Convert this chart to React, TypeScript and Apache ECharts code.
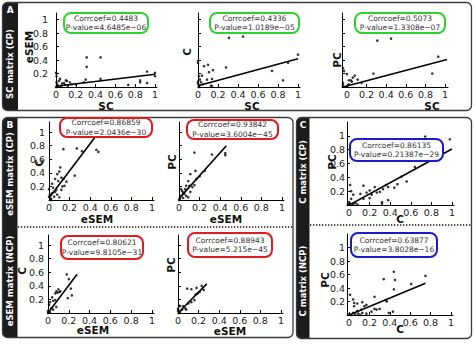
import React, { useEffect, useRef } from "react";
import * as echarts from "echarts";

// ---------- tick values ----------
const TICK_VALUES = [0, 0.2, 0.4, 0.6, 0.8, 1];
const Y_LABEL_VALUES = [0.2, 0.4, 0.6, 0.8, 1];

// ---------- Panel A: SC matrix (CP) ----------
const A1_SC_ESEM = [[0.31,0.44],[0.31,0.30],[0.45,0.44],[0.45,0.12],[0.30,0.11],[0.28,0.07],[0.92,0.23],[1.0,0.21],[1.0,0.16],[0.85,0.10],[0.85,0.07],[0.92,0.06],[0.73,0.03],[0.005,0.07],[0.03,0.09],[0.06,0.05],[0.09,0.03],[0.11,0.09],[0.14,0.07],[0.16,0.04],[0.005,0.16],[0.0,0.21],[0.02,0.02],[0.0,0.0],[0.04,0.12],[0.08,0.06],[0.12,0.02],[0.2,0.04],[0.01,0.04],[0.05,0.01],[0.1,0.1]];
const A1_FIT = [[0, 0.01], [1.0, 0.19]];
const A2_SC_C = [[0.31,0.73],[0.45,0.75],[1.0,0.48],[0.9,0.36],[0.74,0.24],[0.85,0.10],[0.0,0.39],[0.0,0.36],[0.06,0.31],[0.1,0.33],[0.11,0.22],[0.15,0.25],[0.28,0.29],[0.04,0.17],[0.01,0.16],[0.02,0.11],[0.09,0.11],[0.14,0.12],[0.0,0.05],[0.01,0.02],[0.01,0.0],[0.14,0.01],[0.0,0.08],[0.03,0.07],[0.05,0.04],[0.13,0.02]];
const A2_FIT = [[0, 0.02], [1.0, 0.42]];
const A3_SC_PC = [[0.31,0.69],[0.45,0.72],[0.93,0.45],[0.87,0.2],[0.27,0.2],[-0.04,0.28],[-0.03,0.24],[0.0,0.19],[0.08,0.17],[0.06,0.14],[0.02,0.1],[0.04,0.1],[0.11,0.11],[0.15,0.06],[-0.04,0.06],[-0.04,0.03],[0.0,0.01],[0.02,0.04],[0.05,0.08]];
const A3_FIT = [[-0.04, 0.0], [1.02, 0.41]];

// ---------- Panel B: eSEM matrix ----------
const B1_ESEM_C_CP = [[0.14,0.75],[0.27,0.76],[0.32,0.72],[0.46,0.74],[0.48,0.71],[0.25,0.36],[0.11,0.48],[0.10,0.42],[0.08,0.38],[0.12,0.33],[0.06,0.31],[0.09,0.28],[0.14,0.31],[0.03,0.24],[0.04,0.18],[0.07,0.15],[0.0,0.16],[0.03,0.10],[0.08,0.08],[0.05,0.05],[0.10,0.04],[0.0,0.05],[0.02,0.02],[0.12,0.15],[0.15,0.21],[0.17,0.27],[0.13,0.2],[0.06,0.12],[0.01,0.08],[0.02,0.0]];
const B1_FIT = [[0, 0.03], [0.48, 0.99]];
const B2_ESEM_PC_CP = [[0.15,0.70],[0.32,0.67],[0.45,0.69],[0.45,0.66],[0.16,0.43],[0.11,0.38],[0.25,0.43],[0.09,0.28],[0.07,0.21],[0.10,0.21],[0.15,0.22],[0.13,0.19],[0.02,0.16],[0.04,0.11],[0.05,0.09],[0.07,0.06],[0.02,0.06],[0.01,0.02],[0.04,0.03],[0.09,0.04],[0.17,0.31],[0.2,0.35],[0.03,0.13],[0.06,0.16],[0.11,0.12],[0.0,0.0]];
const B2_FIT = [[0, 0.02], [0.46, 0.8]];
const B3_ESEM_C_NCP = [[0.18,0.57],[0.20,0.50],[0.22,0.36],[0.23,0.26],[0.10,0.35],[0.09,0.30],[0.08,0.32],[0.12,0.32],[0.07,0.29],[0.11,0.31],[0.04,0.23],[0.05,0.18],[0.02,0.16],[0.07,0.19],[0.01,0.12],[0.03,0.07],[0.05,0.05],[0.0,0.03],[0.02,0.01],[0.08,0.09],[0.19,0.22],[0.0,0.0]];
const B3_FIT = [[0, 0.0], [0.28, 0.57]];
const B4_ESEM_PC_NCP = [[0.09,0.36],[0.13,0.35],[0.18,0.37],[0.23,0.40],[0.21,0.31],[0.19,0.29],[0.17,0.27],[0.25,0.34],[0.01,0.11],[0.02,0.10],[0.05,0.10],[0.07,0.07],[0.04,0.05],[0.08,0.05],[0.0,0.03],[0.02,0.02],[0.1,0.14],[0.13,0.16],[0.16,0.19],[0.0,0.06],[0.01,0.0]];
const B4_FIT = [[0, 0.0], [0.28, 0.43]];

// ---------- Panel C: C matrix ----------
const C1_C_PC_CP = [[0.74,0.99],[0.98,0.95],[0.64,0.55],[0.51,0.41],[0.56,0.34],[0.44,0.25],[0.38,0.26],[0.33,0.23],[0.30,0.19],[0.25,0.26],[0.20,0.21],[0.14,0.28],[0.22,0.15],[0.27,0.18],[0.17,0.18],[0.11,0.16],[0.01,0.29],[0.02,0.2],[0.04,0.15],[0.02,0.09],[0.14,0.09],[0.20,0.1],[0.32,0.04],[0.38,0.07],[0.0,0.04],[0.01,0.02],[0.04,0.01],[0.06,0.03],[0.08,0.01],[-0.01,0.01],[0.36,0.29],[0.47,0.30],[0.32,0.02]];
const C1_FIT = [[-0.01, -0.01], [1.0, 0.81]];
const C2_C_PC_NCP = [[0.44,0.64],[0.34,0.53],[0.45,0.52],[0.75,0.58],[0.61,0.46],[0.44,0.38],[0.25,0.27],[0.36,0.22],[0.37,0.2],[0.01,0.30],[0.04,0.23],[0.05,0.18],[0.05,0.13],[0.08,0.17],[0.13,0.19],[0.15,0.13],[0.12,0.08],[0.08,0.06],[0.39,0.03],[0.43,0.05],[0.27,0.08],[0.3,0.09],[0.22,0.05],[0.17,0.02],[0.0,0.01],[0.02,0.0],[0.04,0.03],[0.06,0.01],[0.09,0.02],[0.11,0.0],[0.13,0.03],[0.17,0.15],[0.25,0.09]];
const C2_FIT = [[0, 0.0], [0.75, 0.47]];

// ---------- annotations ----------
const CORR_TEXTS = ["Corrcoef=0.4483", "Corrcoef=0.4336", "Corrcoef=0.5073", "Corrcoef=0.86859", "Corrcoef=0.93842", "Corrcoef=0.80621", "Corrcoef=0.88943", "Corrcoef=0.86135", "Corrcoef=0.63877"];
const PVAL_TEXTS = ["P-value=4.6485e\u221206", "P-value=1.0189e\u221205", "P-value=1.3308e\u221207", "P-value=2.0436e\u221230", "P-value=3.6004e\u221245", "P-value=9.8105e\u221231", "P-value=5.215e\u221245", "P-value=0.21387e\u221229", "P-value=3.8028e\u221216"];
const X_NAMES = ["SC", "SC", "SC", "eSEM", "eSEM", "eSEM", "eSEM", "C", "C"];
const Y_NAMES = ["eSEM", "C", "PC", "C", "PC", "C", "PC", "PC", "PC"];
const STRIP_LABELS = ["SC matrix (CP)", "eSEM matrix (CP)", "eSEM matrix (NCP)", "C matrix (CP)", "C matrix (NCP)"];
const PANEL_LETTERS = ["A", "B", "C"];

const GREEN = "#2fd12f";
const RED = "#e01b1b";
const BLUE = "#1a1ad0";
const FONT = '"DejaVu Sans", Verdana, sans-serif';

type Panel = {
  data: number[][];
  fit: number[][];
  grid: { left: number; top: number; width: number; height: number };
  xr: [number, number];
  yr: [number, number];
  yLabels: boolean;
  yMargin: number;
  box: [number, number, number, number];
  color: string;
  xName: [number, number];
  yName: [number, number];
};

const PANELS: Panel[] = [
  { data: A1_SC_ESEM, fit: A1_FIT, grid: { left: 56, top: 13, width: 101, height: 74 }, xr: [0, 1.02], yr: [0, 1.1], yLabels: true, yMargin: 8, box: [64, 13, 84, 20], color: GREEN, xName: [106, 106], yName: [29, 47] },
  { data: A2_SC_C, fit: A2_FIT, grid: { left: 198, top: 13, width: 102, height: 74 }, xr: [0, 1.02], yr: [0, 1.1], yLabels: false, yMargin: 4, box: [210, 13, 89, 20], color: GREEN, xName: [252, 106], yName: [187, 52] },
  { data: A3_SC_PC, fit: A3_FIT, grid: { left: 342, top: 13, width: 106, height: 74 }, xr: [-0.05, 1.03], yr: [0, 1.1], yLabels: false, yMargin: 4, box: [355, 13, 90, 20], color: GREEN, xName: [432, 106], yName: [337, 60] },
  { data: B1_ESEM_C_CP, fit: B1_FIT, grid: { left: 49, top: 122, width: 105, height: 78 }, xr: [0, 1.02], yr: [0, 1.15], yLabels: true, yMargin: 4, box: [60, 118, 92, 19], color: RED, xName: [97, 219], yName: [39, 163] },
  { data: B2_ESEM_PC_CP, fit: B2_FIT, grid: { left: 179, top: 122, width: 105, height: 78 }, xr: [0, 1.02], yr: [0, 1.15], yLabels: false, yMargin: 4, box: [187, 120, 91, 19], color: RED, xName: [226, 219], yName: [172, 162] },
  { data: B3_ESEM_C_NCP, fit: B3_FIT, grid: { left: 48, top: 235, width: 106, height: 78 }, xr: [0, 1.02], yr: [0, 1.15], yLabels: true, yMargin: 4, box: [61, 236, 82, 23], color: RED, xName: [93, 330], yName: [22, 271] },
  { data: B4_ESEM_PC_NCP, fit: B4_FIT, grid: { left: 178, top: 235, width: 105, height: 78 }, xr: [0, 1.02], yr: [0, 1.15], yLabels: false, yMargin: 4, box: [188, 233, 84, 24], color: RED, xName: [230, 331], yName: [171, 265] },
  { data: C1_C_PC_CP, fit: C1_FIT, grid: { left: 347, top: 122, width: 107, height: 83 }, xr: [-0.02, 1.02], yr: [0, 1.2], yLabels: true, yMargin: 2, box: [350, 139, 93, 22], color: BLUE, xName: [400, 219], yName: [332, 162] },
  { data: C2_C_PC_NCP, fit: C2_FIT, grid: { left: 347, top: 234, width: 106, height: 81 }, xr: [-0.02, 1.02], yr: [0, 1.2], yLabels: true, yMargin: 2, box: [351, 233, 86, 24], color: BLUE, xName: [400, 329], yName: [325, 280] },
];

const fmt = (v: number) => String(Math.round(v * 10) / 10);

function buildOption() {
  const grid: any[] = [];
  const xAxis: any[] = [];
  const yAxis: any[] = [];
  const series: any[] = [];
  const graphic: any[] = [];

  // frames and strips
  const frames = [
    { x: 2.5, y: 2.5, w: 469, h: 108, sw: 15.5 },
    { x: 2.5, y: 117.5, w: 290.5, h: 220, sw: 15 },
    { x: 296.5, y: 117.5, w: 175, h: 221, sw: 13 },
  ];
  frames.forEach((f, i) => {
    graphic.push({ type: "rect", z: 1, shape: { x: f.x, y: f.y, width: f.sw, height: f.h, r: [5, 0, 0, 5] }, style: { fill: "#1c1c1c" } });
    graphic.push({ type: "rect", z: 1, shape: { x: f.x, y: f.y, width: f.w, height: f.h, r: 5 }, style: { fill: "none", stroke: "#3a3a3a", lineWidth: 1.3 } });
    graphic.push({ type: "text", z: 2, x: f.x + f.sw / 2, y: f.y + 7, style: { text: PANEL_LETTERS[i], fill: "#fff", fontSize: 9, fontWeight: "bold", fontFamily: FONT, align: "center", verticalAlign: "middle" } });
  });
  const stripPos = [[10, 64], [10, 174], [10, 281], [303, 172], [303, 281]];
  STRIP_LABELS.forEach((t, i) => {
    graphic.push({ type: "text", z: 2, x: stripPos[i][0], y: stripPos[i][1], rotation: Math.PI / 2, style: { text: t, fill: "#fff", fontSize: 8.5, fontWeight: "bold", fontFamily: FONT, align: "center", verticalAlign: "middle" } });
  });
  graphic.push({ type: "line", z: 1, shape: { x1: 18, y1: 227, x2: 293, y2: 227 }, style: { stroke: "#111", lineWidth: 1.3, lineDash: [1.3, 1.7] } });
  graphic.push({ type: "line", z: 1, shape: { x1: 310, y1: 225, x2: 472, y2: 225 }, style: { stroke: "#111", lineWidth: 1.3, lineDash: [1.3, 1.7] } });

  PANELS.forEach((p, i) => {
    grid.push({ ...p.grid, containLabel: false });
    xAxis.push({
      type: "value", gridIndex: i, min: p.xr[0], max: p.xr[1],
      axisLine: { show: true, onZero: false, lineStyle: { color: "#000", width: 1 } },
      axisTick: { show: true, inside: true, length: 3, customValues: TICK_VALUES, lineStyle: { color: "#000" } },
      axisLabel: { customValues: TICK_VALUES, margin: 2, fontSize: 9.5, color: "#1a1a1a", fontFamily: FONT, formatter: fmt },
      splitLine: { show: false },
    });
    yAxis.push({
      type: "value", gridIndex: i, min: p.yr[0], max: p.yr[1],
      axisLine: { show: true, onZero: false, lineStyle: { color: "#000", width: 1 } },
      axisTick: { show: true, inside: true, length: 3, customValues: TICK_VALUES, lineStyle: { color: "#000" } },
      axisLabel: { show: p.yLabels, customValues: Y_LABEL_VALUES, margin: p.yMargin, fontSize: 9.5, color: "#1a1a1a", fontFamily: FONT, formatter: fmt },
      splitLine: { show: false },
    });
    series.push({ type: "scatter", xAxisIndex: i, yAxisIndex: i, data: p.data, symbolSize: 2.6, itemStyle: { color: "#000" }, silent: true, z: 3 });
    series.push({ type: "line", xAxisIndex: i, yAxisIndex: i, data: p.fit, symbol: "none", lineStyle: { color: "#000", width: 1.6 }, silent: true, z: 4 });

    const [bx, by, bw, bh] = p.box;
    graphic.push({ type: "rect", z: 100, shape: { x: bx, y: by, width: bw, height: bh, r: 7 }, style: { fill: "#fff", stroke: p.color, lineWidth: 2 } });
    const cy = by + bh / 2;
    graphic.push({ type: "text", z: 101, x: bx + bw / 2, y: cy - 4.6, style: { text: CORR_TEXTS[i], fill: "#333", fontSize: 7.5, fontFamily: FONT, align: "center", verticalAlign: "middle" } });
    graphic.push({ type: "text", z: 101, x: bx + bw / 2, y: cy + 4.6, style: { text: PVAL_TEXTS[i], fill: "#333", fontSize: 7.5, fontFamily: FONT, align: "center", verticalAlign: "middle" } });

    graphic.push({ type: "text", z: 5, x: p.xName[0], y: p.xName[1], style: { text: X_NAMES[i], fill: "#111", fontSize: 10.5, fontWeight: "bold", fontFamily: FONT, align: "center", verticalAlign: "middle" } });
    graphic.push({ type: "text", z: 5, x: p.yName[0], y: p.yName[1], rotation: Math.PI / 2, style: { text: Y_NAMES[i], fill: "#111", fontSize: 10.5, fontWeight: "bold", fontFamily: FONT, align: "center", verticalAlign: "middle" } });
  });

  return { animation: false, backgroundColor: "#fff", grid, xAxis, yAxis, series, graphic };
}

export default function App() {
  const ref = useRef<HTMLDivElement>(null);
  useEffect(() => {
    const chart = echarts.init(ref.current!, null, { renderer: "svg" });
    chart.setOption(buildOption());
    return () => chart.dispose();
  }, []);
  return <div ref={ref} style={{ position: "absolute", left: 0, top: 0, width: 474, height: 345, background: "#fff" }} />;
}
